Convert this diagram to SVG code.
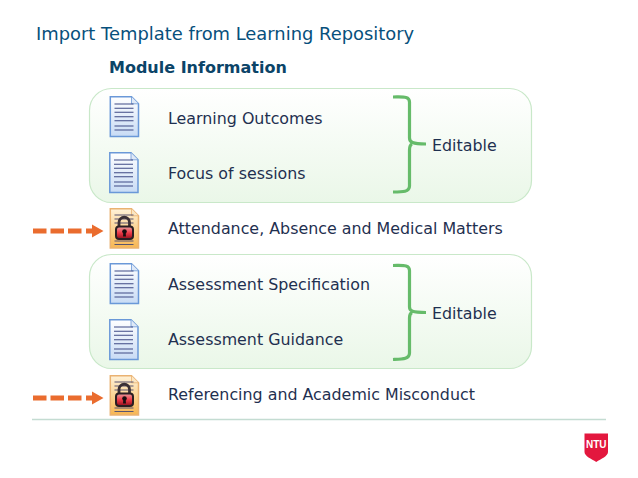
<svg xmlns="http://www.w3.org/2000/svg" xmlns:xlink="http://www.w3.org/1999/xlink" width="638" height="478" viewBox="0 0 638 478">
<style>
text{font-family:"DejaVu Sans",Verdana,sans-serif}
.t{font-size:15.86px;fill:#1f3050}
.panel{fill:url(#pg);stroke:#c9e8c9;stroke-width:1.2}
.br{fill:none;stroke:#66bb6a;stroke-width:3.2;stroke-linejoin:round}
.dash{fill:none;stroke:#ea6c2e;stroke-width:5;stroke-dasharray:13.500 4}
</style>
<defs>
<linearGradient id="pg" x1="0" y1="0" x2="0" y2="1"><stop offset="0" stop-color="#ffffff"/><stop offset="1" stop-color="#eaf7e8"/></linearGradient>
<linearGradient id="dg" x1="0" y1="0" x2="0" y2="1"><stop offset="0" stop-color="#ffffff"/><stop offset="1" stop-color="#c8dbf5"/></linearGradient>
<linearGradient id="og" x1="0" y1="0" x2="0" y2="1"><stop offset="0" stop-color="#fff2d8"/><stop offset="1" stop-color="#f7b652"/></linearGradient>
<linearGradient id="rg" x1="0" y1="0" x2="0" y2="1"><stop offset="0" stop-color="#e8a0a0"/><stop offset="0.500" stop-color="#ee3a48"/><stop offset="1" stop-color="#8e0f1c"/></linearGradient>
<g id="doc">
<path d="M0.800 0.800H22L29 7.800V40.500H0.800Z" fill="url(#dg)" stroke="#6a98d8" stroke-width="1.500"/>
<path d="M22 0.800V7.800H29" fill="#dfe9f7" stroke="#6a98d8" stroke-width="0.800"/>
<path d="M5 8H24M5 12.300H24M5 16.300H24M5 20.700H24M5 24.700H24M5 30H24M5 34H24" stroke="#3f4a85" stroke-width="1.100"/>
</g>
<g id="lockdoc">
<path d="M0.800 0.800H22L29 7.800V40H0.800Z" fill="url(#og)" stroke="#eab272" stroke-width="1.500"/>
<path d="M22 0.800V7.800H29" fill="#fbe6c2" stroke="#eab272" stroke-width="0.800"/>
<path d="M5 7H24M5 11H24M5 15H24M5 33H24M5 36.500H24" stroke="#5a5570" stroke-width="1.100"/>
<path d="M9.500 19V14.500A5.200 5.200 0 0 1 20 14.500V19" fill="none" stroke="#3a3036" stroke-width="2.800"/>
<rect x="6.500" y="18.500" width="17" height="12.500" rx="3" fill="url(#rg)" stroke="#2a1e22" stroke-width="2"/>
<circle cx="15" cy="23.500" r="2.300" fill="#160c0e"/>
<path d="M13.900 24H16.100L16.500 28.500H13.500Z" fill="#160c0e"/>
</g>
</defs>
<rect width="638" height="478" fill="#ffffff"/>
<text id="title" x="36" y="40" font-size="17.900" fill="#07507c">Import Template from Learning Repository</text>
<text id="subtitle" x="109" y="73" font-size="16" font-weight="bold" fill="#0b4468">Module Information</text>
<g id="panel-1"><rect class="panel" x="89.500" y="88.500" width="442" height="114" rx="22"/></g>
<g id="panel-2"><rect class="panel" x="89.500" y="254.500" width="442" height="114" rx="22"/></g>
<g id="node-learning-outcomes"><use xlink:href="#doc" x="109.500" y="96"/><text class="t" x="168" y="123.500">Learning Outcomes</text></g>
<g id="node-focus"><use xlink:href="#doc" x="109" y="152"/><text class="t" x="168" y="178.500">Focus of sessions</text></g>
<g id="node-attendance"><use xlink:href="#lockdoc" x="109.500" y="208"/><text class="t" x="168" y="234">Attendance, Absence and Medical Matters</text></g>
<g id="node-assessment-spec"><use xlink:href="#doc" x="109.500" y="263"/><text class="t" x="168" y="289.500">Assessment Specification</text></g>
<g id="node-assessment-guidance"><use xlink:href="#doc" x="109" y="319"/><text class="t" x="168" y="344.500">Assessment Guidance</text></g>
<g id="node-referencing"><use xlink:href="#lockdoc" x="109.500" y="375"/><text class="t" x="168" y="400">Referencing and Academic Misconduct</text></g>
<g id="node-editable-1"><text class="t" x="432" y="150.500">Editable</text></g>
<g id="node-editable-2"><text class="t" x="432" y="318.500">Editable</text></g>
<g id="connectors">
<path class="br" d="M393 97C403 97 409.500 96 409.500 102V138C409.500 142 412 144 426 144M412 144C410 145 409.500 147 409.500 150V186C409.500 192 403 192 393 192"/>
<path class="br" d="M393 265.500C403 265.500 409.500 264.500 409.500 270.500V307C409.500 311 412 312.500 426 312.500M412 312.500C410 313.500 409.500 315 409.500 318V353C409.500 359 403 359 393 359.500"/>
<path class="dash" d="M33 231H82"/>
<path d="M86 229V228.500H92V224.500L103.500 231L92 237.500V233.500H86Z" fill="#ea6c2e"/>
<path class="dash" d="M33 398H82"/>
<path d="M86 396V395.500H92V391.500L103.500 398L92 404.500V400.500H86Z" fill="#ea6c2e"/>
</g>
<path id="rule" d="M32 419.500H606" stroke="#c4dcd2" stroke-width="1.500"/>
<g id="logo"><path d="M584.500 433.500H608V452C608 456 601 459 596.250 462C591.500 459 584.500 456 584.500 452Z" fill="#e3173e"/><text x="596.300" y="448" font-size="10" font-weight="bold" fill="#ffffff" text-anchor="middle" style="font-family:'Liberation Sans',sans-serif">NTU</text></g>
</svg>
